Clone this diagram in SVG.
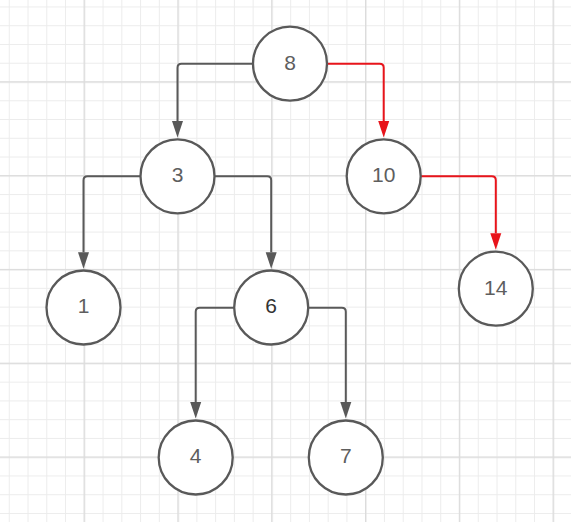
<svg xmlns="http://www.w3.org/2000/svg" width="571" height="522" viewBox="0 0 571 522">
  <style>
    .node circle { fill: #ffffff; stroke: #595959; stroke-width: 2.3; }
    .node text { font-family: "Liberation Sans", Arial, sans-serif; font-size: 21px; fill: #5e5e5e; text-anchor: middle; }
    .edge { fill: none; stroke: #595959; stroke-width: 2; }
    .edge.red { stroke: #e8141b; }
  </style>
  <defs>
    <pattern id="minor" patternUnits="userSpaceOnUse" x="83.8" y="81.5" width="18.76" height="18.76">
      <rect x="0" y="0" width="1" height="18.76" fill="#ececec"/>
      <rect x="0" y="0" width="18.76" height="1" fill="#ececec"/>
    </pattern>
    <pattern id="major" patternUnits="userSpaceOnUse" x="83.6" y="81.3" width="93.8" height="93.8">
      <rect x="0" y="0" width="1.4" height="93.8" fill="#dcdcdc"/>
      <rect x="0" y="0" width="93.8" height="1.4" fill="#dcdcdc"/>
    </pattern>
    <marker id="arrow" markerUnits="userSpaceOnUse" markerWidth="17" markerHeight="12" refX="0" refY="5.5" orient="auto" viewBox="0 0 17 11">
      <path d="M0,0 L16.5,5.5 L0,11 Z" fill="#595959"/>
    </marker>
    <marker id="arrowRed" markerUnits="userSpaceOnUse" markerWidth="17" markerHeight="12" refX="0" refY="5.5" orient="auto" viewBox="0 0 17 11">
      <path d="M0,0 L16.5,5.5 L0,11 Z" fill="#e8141b"/>
    </marker>
  </defs>
  <rect width="571" height="522" fill="#ffffff"/>
  <rect width="571" height="522" fill="url(#minor)"/>
  <rect width="571" height="522" fill="url(#major)"/>

  <g id="connectors">
    <path class="edge" d="M252.7,63.7 H181.5 Q177.5,63.7 177.5,67.7 V121" marker-end="url(#arrow)"/>
    <path class="edge red" d="M327.3,63.7 H379.7 Q383.7,63.7 383.7,67.7 V121" marker-end="url(#arrowRed)"/>
    <path class="edge" d="M140.2,176.3 H87.5 Q83.5,176.3 83.5,180.3 V252.3" marker-end="url(#arrow)"/>
    <path class="edge" d="M214.8,176.3 H267.2 Q271.2,176.3 271.2,180.3 V252.3" marker-end="url(#arrow)"/>
    <path class="edge red" d="M421,176.3 H491.8 Q495.8,176.3 495.8,180.3 V233.2" marker-end="url(#arrowRed)"/>
    <path class="edge" d="M233.9,307.8 H199.7 Q195.7,307.8 195.7,311.8 V402" marker-end="url(#arrow)"/>
    <path class="edge" d="M308.5,307.8 H341.8 Q345.8,307.8 345.8,311.8 V402" marker-end="url(#arrow)"/>
  </g>

  <g id="node-8" class="node">
    <circle cx="290" cy="63.7" r="37"/>
    <text x="290" y="69.5">8</text>
  </g>
  <g id="node-3" class="node">
    <circle cx="177.5" cy="176.3" r="37"/>
    <text x="177.5" y="182.1">3</text>
  </g>
  <g id="node-10" class="node">
    <circle cx="383.7" cy="176.3" r="37"/>
    <text x="383.7" y="182.1">10</text>
  </g>
  <g id="node-1" class="node">
    <circle cx="83.5" cy="307.5" r="37"/>
    <text x="83.5" y="313.3">1</text>
  </g>
  <g id="node-6" class="node">
    <circle cx="271.2" cy="307.5" r="37"/>
    <text x="271.2" y="313.3" style="fill:#333333">6</text>
  </g>
  <g id="node-14" class="node">
    <circle cx="495.8" cy="288.7" r="37"/>
    <text x="495.8" y="294.5">14</text>
  </g>
  <g id="node-4" class="node">
    <circle cx="195.7" cy="457.5" r="37"/>
    <text x="195.7" y="463.3">4</text>
  </g>
  <g id="node-7" class="node">
    <circle cx="345.8" cy="457.5" r="37"/>
    <text x="345.8" y="463.3">7</text>
  </g>
</svg>
